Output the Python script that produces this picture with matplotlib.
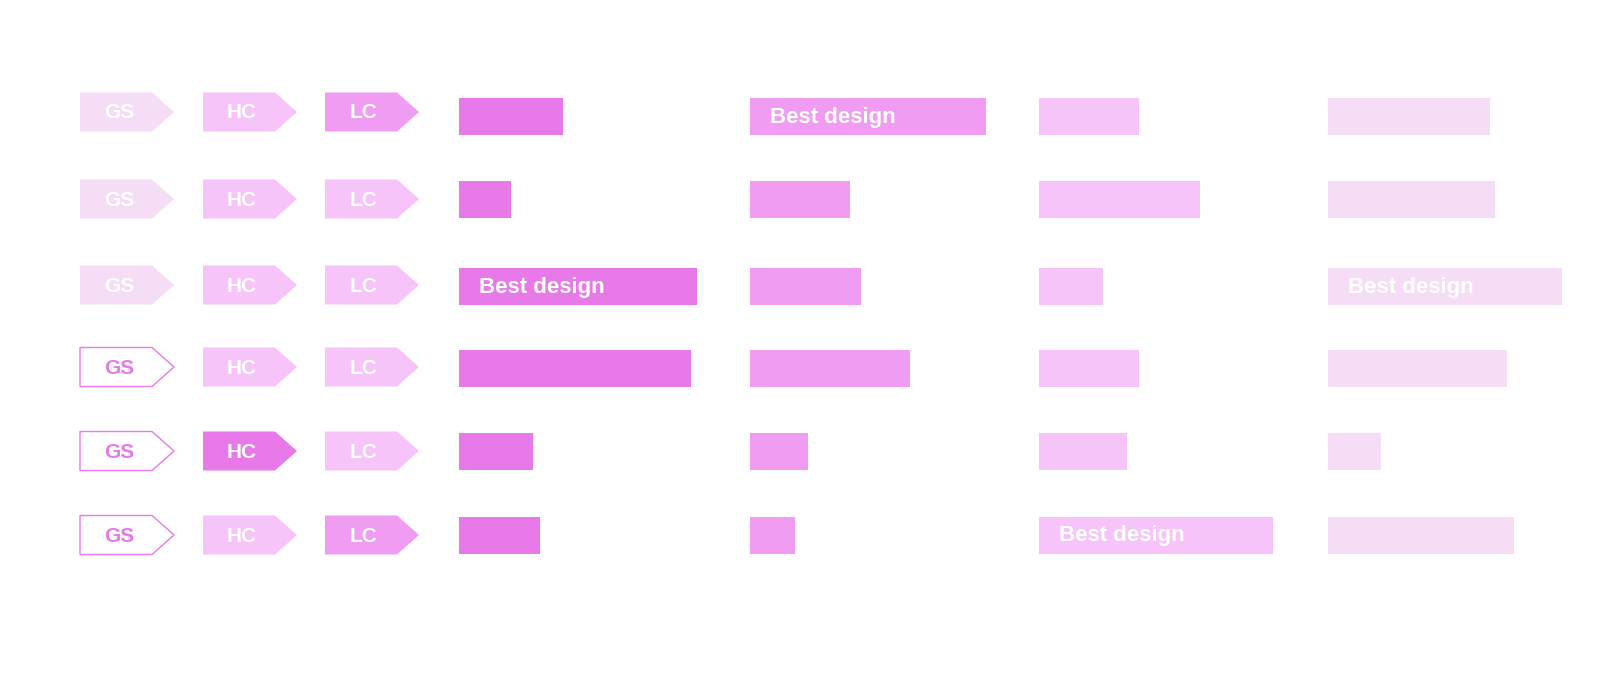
import matplotlib
matplotlib.use("Agg")
import matplotlib.pyplot as plt
from matplotlib.patches import Polygon

plt.rcParams['font.family'] = ['Liberation Sans', 'DejaVu Sans']

# Data
col_starts = [459, 750, 1039, 1328]
bar_values = [
    [104, 52, 238, 232, 74, 81],
    [236, 100, 111, 160, 58, 45],
    [100, 161, 64, 100, 88, 234],
    [162, 167, 234, 179, 53, 186],
]
best_row = [2, 0, 5, 2]
tag_labels = ["GS", "HC", "LC"]
# states: 0 lightest, 1 light, 2 medium, 3 dark, 'o' outline
tag_states = [
    [0, 1, 2],
    [0, 1, 1],
    [0, 1, 1],
    ['o', 1, 1],
    ['o', 3, 1],
    ['o', 1, 2],
]

DARK, MED, LIGHT, LIGHTEST = "#E879E8", "#F09CF2", "#F6C4F8", "#F6DDF6"
col_colors = [DARK, MED, LIGHT, LIGHTEST]
state_colors = {0: LIGHTEST, 1: LIGHT, 2: MED, 3: DARK}

bar_y = [116, 199, 286, 368, 451, 535]
tag_y = [112, 199, 285, 367, 451, 535]
tag_x = [80, 203, 325]

fig = plt.figure(figsize=(16, 6.9), dpi=100)
ax = fig.add_axes([0, 0, 1, 1])
ax.set_xlim(0, 1600)
ax.set_ylim(690, 0)
ax.axis('off')

for c, (x0, vals) in enumerate(zip(col_starts, bar_values)):
    ax.barh(bar_y, vals, left=x0, height=37, color=col_colors[c])
    r = best_row[c]
    ax.text(x0 + 20, bar_y[r] + 1, "Best design", color="white", fontsize=16,
            fontweight='bold', va='center', ha='left')

for r, states in enumerate(tag_states):
    yc = tag_y[r]
    for k, st in enumerate(states):
        x = tag_x[k]
        pts = [(x, yc - 19.5), (x + 72, yc - 19.5), (x + 94, yc), (x + 72, yc + 19.5), (x, yc + 19.5)]
        if st == 'o':
            ax.add_patch(Polygon(pts, closed=True, facecolor='white', edgecolor=DARK, lw=1))
            tc = DARK
        else:
            ax.add_patch(Polygon(pts, closed=True, facecolor=state_colors[st], edgecolor='none'))
            tc = 'white'
        ax.text(x + 39, yc + 1, tag_labels[k], color=tc, fontsize=15, fontweight='bold',
                ha='center', va='center')

fig.savefig("out.png", dpi=100, facecolor='white')
